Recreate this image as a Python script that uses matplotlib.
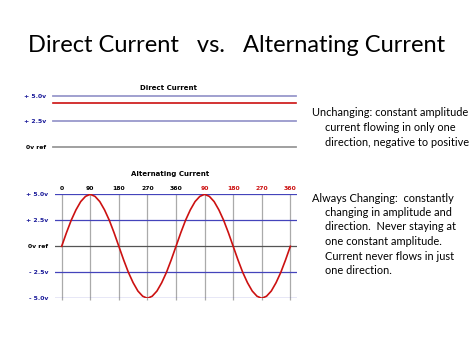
import numpy as np
import matplotlib
matplotlib.use("Agg")
import matplotlib.pyplot as plt

W, H = 474, 355

# values
dc_levels = [5.0, 2.5, 0.0]
dc_labels = ["+ 5.0v", "+ 2.5v", "0v ref"]
dc_value = 4.3

ac_levels = [5.0, 2.5, 0.0, -2.5, -5.0]
ac_labels = ["+ 5.0v", "+ 2.5v", "0v ref", "- 2.5v", "- 5.0v"]
deg_ticks = [0, 90, 180, 270, 360, 450, 540, 630, 720]
deg_labels = ["0", "90", "180", "270", "360", "90", "180", "270", "360"]

ac_deg = list(range(0, 721, 15))
ac_volts = [0.0, 1.3, 2.5, 3.5, 4.3, 4.8, 5.0, 4.8, 4.3, 3.5, 2.5, 1.3,
            0.0, -1.3, -2.5, -3.5, -4.3, -4.8, -5.0, -4.8, -4.3, -3.5, -2.5, -1.3,
            0.0, 1.3, 2.5, 3.5, 4.3, 4.8, 5.0, 4.8, 4.3, 3.5, 2.5, 1.3,
            0.0, -1.3, -2.5, -3.5, -4.3, -4.8, -5.0, -4.8, -4.3, -3.5, -2.5, -1.3,
            0.0]

dc_note = ["Unchanging: constant amplitude",
           "current flowing in only one",
           "direction, negative to positive"]
ac_note = ["Always Changing:  constantly",
           "changing in amplitude and",
           "direction.  Never staying at",
           "one constant amplitude.",
           "Current never flows in just",
           "one direction."]

RED = "#cc1111"
BLUE = "#4444bb"


def box(x0, y0, x1, y1):
    # pixel box (top-left origin) -> figure fraction rect
    return [x0 / W, 1 - y1 / H, (x1 - x0) / W, (y1 - y0) / H]


def fig_xy(x, y):
    return x / W, 1 - y / H


fig = plt.figure(figsize=(W / 100, H / 100), dpi=100)

fig.text(*fig_xy(237, 45), "Direct Current   vs.   Alternating Current",
         ha="center", va="center", fontsize=17, family="Lato")

# ---- direct current panel
ax1 = fig.add_axes(box(53, 95.7, 296, 147))
ax1.set_xlim(0, 1)
ax1.set_ylim(0, 5)
for lvl in dc_levels:
    col = "#999999" if lvl == 0 else "#9999cc"
    ax1.axhline(lvl, color=col, lw=1.3, clip_on=False)
ax1.axhline(dc_value, color=RED, lw=1.2, clip_on=False)
ax1.set_yticks(dc_levels)
ax1.set_yticklabels(dc_labels, fontsize=4.4, fontweight="bold")
for t, lvl in zip(ax1.get_yticklabels(), dc_levels):
    t.set_color("black" if lvl == 0 else "#1a1a99")
ax1.tick_params(axis="y", length=0, pad=5)
ax1.set_xticks([])
for s in ax1.spines.values():
    s.set_visible(False)
ax1.patch.set_visible(False)
fig.text(*fig_xy(168, 88), "Direct Current", ha="center", va="center",
         fontsize=5, fontweight="bold")

# ---- alternating current panel
ax2 = fig.add_axes(box(55, 194.3, 296.7, 298.3))
ax2.set_xlim(-21, 740)
ax2.set_ylim(-5, 5)
ax2.vlines(deg_ticks, -5.2, 5, color="#aaaaaa", lw=0.9, clip_on=False, zorder=1)
for lvl in ac_levels:
    col = "#555555" if lvl == 0 else BLUE
    ax2.axhline(lvl, color=col, lw=0.9, zorder=2)
ax2.plot(ac_deg, ac_volts, color=RED, lw=1.2, zorder=3)
ax2.set_yticks(ac_levels)
ax2.set_yticklabels(ac_labels, fontsize=4.4, fontweight="bold")
for t, lvl in zip(ax2.get_yticklabels(), ac_levels):
    t.set_color("black" if lvl == 0 else "#1a1a99")
ax2.tick_params(axis="y", length=0, pad=5)
ax2.xaxis.tick_top()
ax2.set_xticks(deg_ticks)
ax2.set_xticklabels(deg_labels, fontsize=4.4, fontweight="bold")
for i, t in enumerate(ax2.get_xticklabels()):
    t.set_color("black" if i < 5 else RED)
ax2.tick_params(axis="x", length=0, pad=2.5)
for s in ax2.spines.values():
    s.set_visible(False)
ax2.patch.set_visible(False)
fig.text(*fig_xy(170, 174), "Alternating Current", ha="center", va="center",
         fontsize=5, fontweight="bold")

# ---- notes on the right
def note(lines, y0):
    step = 14.5
    for i, line in enumerate(lines):
        x = 312 if i == 0 else 325
        fig.text(*fig_xy(x, y0 + i * step), line, ha="left", va="center",
                 fontsize=7.9, family="Lato")

note(dc_note, 113)
note(ac_note, 198)

fig.savefig("out.png", dpi=100)
